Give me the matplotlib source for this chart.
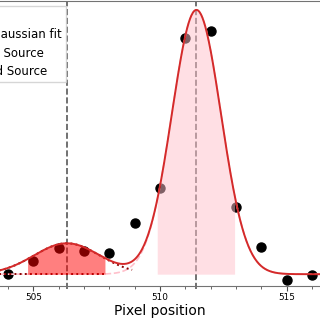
import numpy as np
import matplotlib
matplotlib.use("Agg")
from matplotlib import pyplot as plt
from matplotlib.lines import Line2D
from matplotlib.patches import Patch

"""
Data (normalised intensity, baseline = 0)
"""
pixel = [504, 505, 506, 507, 508, 509, 510, 511, 512, 513, 514, 515, 516]
intensity = [0.000, 0.050, 0.098, 0.087, 0.080, 0.193, 0.326, 0.894, 0.920, 0.254, 0.102, -0.023, -0.004]

# fit parameters: amplitude, centre, sigma
main_amp, main_mu, main_sig = 1.0, 511.44, 0.97
sec_amp, sec_mu, sec_sig = 0.117, 506.32, 1.3
baseline = 0.0

# shaded integration windows
main_lo, main_hi = 509.88, 512.96
sec_lo, sec_hi = 504.76, 507.84
sec_end = 508.9  # where the secondary component is drawn to

legend_labels = ["Data", "Total Gaussian fit", "Centre Source", "Second Source"]


def gauss(x, a, mu, s):
    return a * np.exp(-(x - mu) ** 2 / (2 * s ** 2))


xmin, xmax = 500.91, 517.41
x = np.linspace(xmin, xmax, 600)
main_curve = baseline + gauss(x, main_amp, main_mu, main_sig)
sec_curve = baseline + gauss(x, sec_amp, sec_mu, sec_sig)
fit_curve = baseline + gauss(x, main_amp, main_mu, main_sig) + gauss(x, sec_amp, sec_mu, sec_sig)

fig = plt.figure(figsize=(3.2, 3.2), dpi=100)
ax = fig.add_axes([-0.21875, 0.106, 1.3047, 0.891])

ax.plot(pixel, intensity, "o", color="black", markersize=6.5, zorder=2)
ax.plot(x, main_curve, "--", color="pink", lw=1.2, zorder=2)
e = x <= sec_end
ax.plot(x[e], sec_curve[e], ":", color="darkred", lw=1.4, zorder=3)
ax.hlines(baseline, xmin, sec_hi, colors="darkred", linestyles=":", lw=1.4, zorder=3)
ax.plot(x, fit_curve, "-", color="#d42a2a", lw=1.4, zorder=4)

m = (x >= main_lo) & (x <= main_hi)
ax.fill_between(x[m], baseline, main_curve[m], color="pink", alpha=0.5, lw=0, zorder=3)
s = (x >= sec_lo) & (x <= sec_hi)
ax.fill_between(x[s], baseline, sec_curve[s], color="red", alpha=0.5, lw=0, zorder=3)

for c in (sec_mu, main_mu):
    ax.vlines(c, -0.055, 1.034, colors="0.35", linestyles="--", lw=1.2, clip_on=False, zorder=1)

ax.set_xlim(xmin, xmax)
ax.set_ylim(-0.045, 1.034)
ax.set_xticks([505, 510, 515])
ax.set_xticks(np.arange(501, 518), minor=True)
ax.set_yticks([])
ax.tick_params(axis="x", labelsize=6.4, length=3.5, pad=1.5, color="0.3")
ax.tick_params(axis="x", which="minor", length=2.5, color="0.3")
for sp in ax.spines.values():
    sp.set_color("0.45")
ax.set_xlabel("Pixel position", fontsize=10)
ax.xaxis.set_label_coords((510 - xmin) / (xmax - xmin), -0.062)

handles = [
    Line2D([], [], marker="o", color="black", ls="none", markersize=5),
    Line2D([], [], color="#d42a2a", lw=1.4),
    Patch(facecolor="pink", alpha=0.5),
    Patch(facecolor="red", alpha=0.5),
]
ax.legend(handles, legend_labels, loc="upper right", bbox_to_anchor=(66 / 320, 1 - 6 / 320),
          bbox_transform=fig.transFigure, borderaxespad=0, fontsize=8.5,
          labelspacing=0.45, borderpad=0.35, fancybox=False)

fig.savefig("out.png", dpi=100)
